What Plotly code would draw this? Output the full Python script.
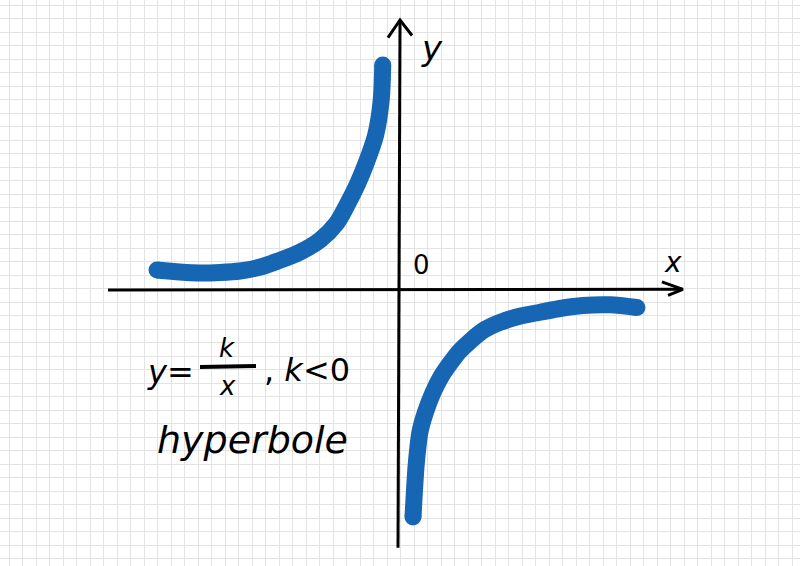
import plotly.graph_objects as go

# grid unit = 13.5 px, origin at the axis crossing
left_x = [-17.85, -16.15, -14.67, -13.2, -11.70, -10.2, -8.89, -7.26, -5.78, -4.54, -3.70, -3.0, -2.3, -1.65, -1.25, -1.13]
left_y = [1.48, 1.33, 1.26, 1.30, 1.41, 1.70, 2.15, 2.81, 3.70, 4.96, 6.44, 7.85, 9.55, 11.5, 14.0, 16.67]
right_x = [1.11, 1.20, 1.35, 1.63, 2.05, 2.59, 3.20, 3.85, 4.55, 5.33, 6.40, 7.56, 9.0, 10.52, 12.1, 13.70, 15.70, 17.70]
right_y = [-16.81, -15.2, -12.9, -10.5, -9.0, -7.6, -6.4, -5.45, -4.55, -3.8, -2.95, -2.4, -1.95, -1.65, -1.35, -1.15, -1.1, -1.3]

xaxis_line_x = [-21.48, 21.1]
xaxis_line_y = [0.0, 0.05]
yaxis_line_x = [0.0, 0.15]
yaxis_line_y = [-19.1, 20.0]
xarrow_x = [19.55, 21.1, 20.0]
xarrow_y = [0.6, 0.05, -0.4]
yarrow_x = [-0.74, 0.15, 1.04]
yarrow_y = [18.7, 20.0, 18.85]

BLUE = "#1766b3"
fig = go.Figure()
for xs, ys in [(left_x, left_y), (right_x, right_y)]:
    fig.add_trace(go.Scatter(x=xs, y=ys, mode="lines", line=dict(color=BLUE, width=17, shape="spline", smoothing=0.8), hoverinfo="skip"))
    fig.add_trace(go.Scatter(x=[xs[0], xs[-1]], y=[ys[0], ys[-1]], mode="markers", marker=dict(color=BLUE, size=17), hoverinfo="skip"))

for xs, ys in [(xaxis_line_x, xaxis_line_y), (yaxis_line_x, yaxis_line_y), (xarrow_x, xarrow_y), (yarrow_x, yarrow_y)]:
    fig.add_trace(go.Scatter(x=xs, y=ys, mode="lines", line=dict(color="black", width=3), hoverinfo="skip"))

FONT = "DejaVu Sans"
def ann(px, py, text, size):
    fig.add_annotation(x=px / 800, y=1 - py / 566, xref="paper", yref="paper", text=text, showarrow=False,
                       font=dict(family=FONT, size=size, color="black"), xanchor="center", yanchor="middle")

ann(432, 48, "<i>y</i>", 34)
ann(673, 262, "<i>x</i>", 28)
ann(421, 265, "0", 26)
ann(170, 372, "<i>y</i>=", 32)
ann(227, 348, "<i>k</i>", 26)
ann(227, 386, "<i>x</i>", 26)
ann(307, 370, ", <i>k</i>&lt;0", 32)
ann(252, 440, "<i>hyperbole</i>", 38)
fig.add_shape(type="line", xref="paper", yref="paper", x0=200 / 800, x1=256 / 800, y0=1 - 367 / 566, y1=1 - 366 / 566,
              line=dict(color="black", width=4))

fig.update_layout(
    width=800, height=566, margin=dict(l=0, r=0, t=0, b=0),
    paper_bgcolor="white", plot_bgcolor="white", showlegend=False,
    xaxis=dict(range=[-398 / 13.5, 402 / 13.5], showgrid=True, gridcolor="#e3e3e3", gridwidth=1, dtick=1, tick0=0.185,
               zeroline=False, showticklabels=False, showline=False, ticks="", fixedrange=True),
    yaxis=dict(range=[-276 / 13.5, 290 / 13.5], showgrid=True, gridcolor="#e3e3e3", gridwidth=1, dtick=1, tick0=0.11,
               zeroline=False, showticklabels=False, showline=False, ticks="", fixedrange=True),
)
fig.write_html("out.html", config={"displayModeBar": False},
               post_script="document.body.style.margin='0';document.body.style.overflow='hidden';")
